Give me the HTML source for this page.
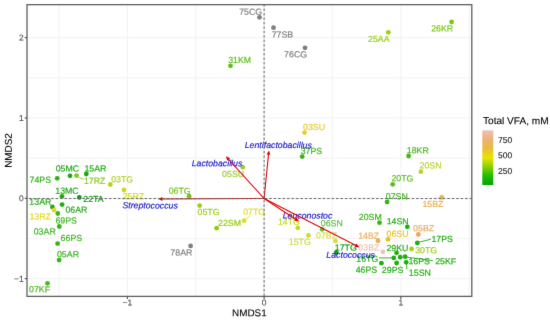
<!DOCTYPE html>
<html><head><meta charset="utf-8"><title>NMDS</title>
<style>html,body{margin:0;padding:0;background:#fff;}svg{display:block;text-rendering:geometricPrecision;}</style>
</head><body>
<svg width="550" height="321" viewBox="0 0 550 321">
<rect x="0" y="0" width="550" height="321" fill="#ffffff"/>
<defs><clipPath id="pc"><rect x="27.0" y="4.65" width="444.80" height="291.75"/></clipPath><filter id="bl" x="0" y="0" width="550" height="321" filterUnits="userSpaceOnUse" color-interpolation-filters="sRGB"><feConvolveMatrix order="3" kernelMatrix="0.0072 0.0847 0.0072 0.0847 1 0.0847 0.0072 0.0847 0.0072" edgeMode="duplicate" preserveAlpha="true"/></filter></defs>
<g filter="url(#bl)"><rect x="0" y="0" width="550" height="321" fill="#ffffff"/>
<g stroke="#f4f4f4" stroke-width="1.2" fill="none">
<line x1="59.05" y1="4.65" x2="59.05" y2="296.4"/>
<line x1="127.40" y1="4.65" x2="127.40" y2="296.4"/>
<line x1="195.75" y1="4.65" x2="195.75" y2="296.4"/>
<line x1="332.45" y1="4.65" x2="332.45" y2="296.4"/>
<line x1="400.80" y1="4.65" x2="400.80" y2="296.4"/>
<line x1="469.15" y1="4.65" x2="469.15" y2="296.4"/>
<line x1="27.0" y1="278.65" x2="471.8" y2="278.65"/>
<line x1="27.0" y1="238.48" x2="471.8" y2="238.48"/>
<line x1="27.0" y1="158.12" x2="471.8" y2="158.12"/>
<line x1="27.0" y1="117.95" x2="471.8" y2="117.95"/>
<line x1="27.0" y1="77.78" x2="471.8" y2="77.78"/>
<line x1="27.0" y1="37.60" x2="471.8" y2="37.60"/>
<line x1="264.10" y1="4.65" x2="264.10" y2="296.4"/>
<line x1="27.0" y1="198.30" x2="471.8" y2="198.30"/>
</g>
<g stroke="none">
<circle cx="259.5" cy="17.3" r="2.4" fill="#7f7f7f"/>
<circle cx="273.5" cy="27.7" r="2.4" fill="#7f7f7f"/>
<circle cx="305.0" cy="47.8" r="2.4" fill="#7f7f7f"/>
<circle cx="230.5" cy="65.8" r="2.4" fill="#5cc01a"/>
<circle cx="388.3" cy="32.3" r="2.4" fill="#9ccf10"/>
<circle cx="451.6" cy="22.0" r="2.4" fill="#78c814"/>
<circle cx="57.2" cy="178.3" r="2.4" fill="#2ab414"/>
<circle cx="70.0" cy="175.8" r="2.4" fill="#1ea812"/>
<circle cx="76.5" cy="175.6" r="2.4" fill="#80c820"/>
<circle cx="86.3" cy="174.0" r="2.4" fill="#1ea812"/>
<circle cx="110.3" cy="184.5" r="2.4" fill="#b4d228"/>
<circle cx="62.0" cy="196.3" r="2.4" fill="#22ac12"/>
<circle cx="79.3" cy="197.4" r="2.4" fill="#0e9c0e"/>
<circle cx="52.4" cy="207.0" r="2.4" fill="#22ac12"/>
<circle cx="62.1" cy="204.6" r="2.4" fill="#22ac12"/>
<circle cx="54.0" cy="210.1" r="2.4" fill="#e2d820"/>
<circle cx="57.8" cy="213.5" r="2.4" fill="#40b620"/>
<circle cx="59.3" cy="226.5" r="2.4" fill="#36b418"/>
<circle cx="57.6" cy="243.6" r="2.4" fill="#36b418"/>
<circle cx="59.1" cy="260.1" r="2.4" fill="#36b418"/>
<circle cx="47.5" cy="283.3" r="2.4" fill="#48b81a"/>
<circle cx="124.0" cy="190.0" r="2.4" fill="#ccd818"/>
<circle cx="189.1" cy="196.2" r="2.4" fill="#74c21c"/>
<circle cx="199.7" cy="205.6" r="2.4" fill="#9ccd18"/>
<circle cx="242.7" cy="167.2" r="2.4" fill="#9ccc30"/>
<circle cx="302.2" cy="156.6" r="2.4" fill="#36b418"/>
<circle cx="304.5" cy="132.6" r="2.4" fill="#e6cc30"/>
<circle cx="216.6" cy="228.2" r="2.4" fill="#90cc10"/>
<circle cx="244.1" cy="220.7" r="2.4" fill="#e0dc30"/>
<circle cx="190.6" cy="245.9" r="2.4" fill="#7f7f7f"/>
<circle cx="297.8" cy="227.8" r="2.4" fill="#c8d820"/>
<circle cx="322.2" cy="229.3" r="2.4" fill="#5dbe3f"/>
<circle cx="308.5" cy="235.4" r="2.4" fill="#ccda3a"/>
<circle cx="335.5" cy="241.1" r="2.4" fill="#d8dc40"/>
<circle cx="336.3" cy="252.5" r="2.4" fill="#0e9c0e"/>
<circle cx="378.0" cy="240.9" r="2.4" fill="#e8b060"/>
<circle cx="382.9" cy="251.8" r="2.4" fill="#f0c0b0"/>
<circle cx="379.5" cy="222.7" r="2.4" fill="#36b418"/>
<circle cx="407.3" cy="226.8" r="2.4" fill="#22ac12"/>
<circle cx="388.0" cy="239.4" r="2.4" fill="#e8c020"/>
<circle cx="418.3" cy="234.5" r="2.4" fill="#e8a860"/>
<circle cx="417.3" cy="243.0" r="2.4" fill="#22ac12"/>
<circle cx="411.6" cy="249.0" r="2.4" fill="#a0d020"/>
<circle cx="396.6" cy="252.8" r="2.4" fill="#22ac12"/>
<circle cx="393.8" cy="257.9" r="2.4" fill="#22ac12"/>
<circle cx="400.2" cy="257.2" r="2.4" fill="#22ac12"/>
<circle cx="405.1" cy="256.7" r="2.4" fill="#22ac12"/>
<circle cx="406.2" cy="262.3" r="2.4" fill="#22ac12"/>
<circle cx="396.6" cy="263.0" r="2.4" fill="#22ac12"/>
<circle cx="381.4" cy="263.2" r="2.4" fill="#22ac12"/>
<circle cx="408.6" cy="156.0" r="2.4" fill="#48b81a"/>
<circle cx="420.9" cy="171.7" r="2.4" fill="#b8d430"/>
<circle cx="392.7" cy="184.3" r="2.4" fill="#5cbc20"/>
<circle cx="387.1" cy="202.0" r="2.4" fill="#36b418"/>
<circle cx="441.7" cy="197.4" r="2.4" fill="#e8b050"/>
</g>
<line x1="78.5" y1="177.2" x2="83.5" y2="179.5" stroke="#80c820" stroke-width="0.9"/>
<line x1="246" y1="219" x2="249.5" y2="216.4" stroke="#e0dc30" stroke-width="0.9"/>
<line x1="419" y1="242.2" x2="431" y2="239.2" stroke="#22ac12" stroke-width="0.9"/>
<line x1="379" y1="257.9" x2="392" y2="257.9" stroke="#22ac12" stroke-width="0.9"/>
<line x1="407" y1="257.2" x2="433" y2="260.7" stroke="#22ac12" stroke-width="0.9"/>
<line x1="406.5" y1="264" x2="406.9" y2="269.4" stroke="#22ac12" stroke-width="0.9"/>
<g font-family="Liberation Sans, Arial, sans-serif" font-size="8.8" stroke-width="0.18">
<text transform="translate(239.16 14.65) rotate(0.1)" fill="#7f7f7f" stroke="#7f7f7f">75CG</text>
<text transform="translate(271.69 37.55) rotate(0.1)" fill="#7f7f7f" stroke="#7f7f7f">77SB</text>
<text transform="translate(284.11 57.35) rotate(0.1)" fill="#7f7f7f" stroke="#7f7f7f">76CG</text>
<text transform="translate(228.20 62.95) rotate(0.1)" fill="#5cc01a" stroke="#5cc01a">31KM</text>
<text transform="translate(368.07 41.95) rotate(0.1)" fill="#9ccf10" stroke="#9ccf10">25AA</text>
<text transform="translate(431.18 31.55) rotate(0.1)" fill="#78c814" stroke="#78c814">26KR</text>
<text transform="translate(29.56 182.65) rotate(0.1)" fill="#2ab414" stroke="#2ab414">74PS</text>
<text transform="translate(55.66 171.45) rotate(0.1)" fill="#1ea812" stroke="#1ea812">05MC</text>
<text transform="translate(83.89 183.65) rotate(0.1)" fill="#80c820" stroke="#80c820">17RZ</text>
<text transform="translate(84.41 171.45) rotate(0.1)" fill="#1ea812" stroke="#1ea812">15AR</text>
<text transform="translate(111.15 182.35) rotate(0.1)" fill="#b4d228" stroke="#b4d228">03TG</text>
<text transform="translate(55.25 193.75) rotate(0.1)" fill="#22ac12" stroke="#22ac12">13MC</text>
<text transform="translate(83.27 202.05) rotate(0.1)" fill="#0e9c0e" stroke="#0e9c0e">22TA</text>
<text transform="translate(29.36 204.65) rotate(0.1)" fill="#22ac12" stroke="#22ac12">13AR</text>
<text transform="translate(65.38 212.75) rotate(0.1)" fill="#22ac12" stroke="#22ac12">06AR</text>
<text transform="translate(29.44 219.55) rotate(0.1)" fill="#e2d820" stroke="#e2d820">13RZ</text>
<text transform="translate(55.41 223.55) rotate(0.1)" fill="#40b620" stroke="#40b620">69PS</text>
<text transform="translate(33.73 234.45) rotate(0.1)" fill="#36b418" stroke="#36b418">03AR</text>
<text transform="translate(60.61 241.05) rotate(0.1)" fill="#36b418" stroke="#36b418">66PS</text>
<text transform="translate(56.98 257.15) rotate(0.1)" fill="#36b418" stroke="#36b418">05AR</text>
<text transform="translate(28.99 292.35) rotate(0.1)" fill="#48b81a" stroke="#48b81a">07KF</text>
<text transform="translate(122.71 199.15) rotate(0.1)" fill="#ccd818" stroke="#ccd818">25RZ</text>
<text transform="translate(168.70 193.85) rotate(0.1)" fill="#74c21c" stroke="#74c21c">06TG</text>
<text transform="translate(197.55 214.95) rotate(0.1)" fill="#9ccd18" stroke="#9ccd18">05TG</text>
<text transform="translate(222.11 176.95) rotate(0.1)" fill="#9ccc30" stroke="#9ccc30">05SU</text>
<text transform="translate(300.67 153.95) rotate(0.1)" fill="#36b418" stroke="#36b418">37PS</text>
<text transform="translate(303.01 129.95) rotate(0.1)" fill="#e6cc30" stroke="#e6cc30">03SU</text>
<text transform="translate(218.00 226.05) rotate(0.1)" fill="#90cc10" stroke="#90cc10">22SM</text>
<text transform="translate(243.20 214.75) rotate(0.1)" fill="#e0dc30" stroke="#e0dc30">07TG</text>
<text transform="translate(170.37 255.55) rotate(0.1)" fill="#7f7f7f" stroke="#7f7f7f">78AR</text>
<text transform="translate(277.94 224.75) rotate(0.1)" fill="#c8d820" stroke="#c8d820">14TG</text>
<text transform="translate(320.78 226.15) rotate(0.1)" fill="#5dbe3f" stroke="#5dbe3f">06SN</text>
<text transform="translate(288.84 244.65) rotate(0.1)" fill="#ccda3a" stroke="#ccda3a">15TG</text>
<text transform="translate(316.05 238.55) rotate(0.1)" fill="#d8dc40" stroke="#d8dc40">07BZ</text>
<text transform="translate(334.84 250.45) rotate(0.1)" fill="#0e9c0e" stroke="#0e9c0e">17TG</text>
<text transform="translate(358.19 238.75) rotate(0.1)" fill="#e8b060" stroke="#e8b060">14BZ</text>
<text transform="translate(358.35 250.55) rotate(0.1)" fill="#f0c0b0" stroke="#f0c0b0">03BZ</text>
<text transform="translate(358.75 219.95) rotate(0.1)" fill="#36b418" stroke="#36b418">20SM</text>
<text transform="translate(386.72 224.35) rotate(0.1)" fill="#22ac12" stroke="#22ac12">14SN</text>
<text transform="translate(386.51 236.75) rotate(0.1)" fill="#e8c020" stroke="#e8c020">06SU</text>
<text transform="translate(413.10 231.15) rotate(0.1)" fill="#e8a860" stroke="#e8a860">05BZ</text>
<text transform="translate(431.45 241.95) rotate(0.1)" fill="#22ac12" stroke="#22ac12">17PS</text>
<text transform="translate(415.21 253.15) rotate(0.1)" fill="#a0d020" stroke="#a0d020">30TG</text>
<text transform="translate(386.41 251.05) rotate(0.1)" fill="#22ac12" stroke="#22ac12">29KU</text>
<text transform="translate(356.34 261.65) rotate(0.1)" fill="#22ac12" stroke="#22ac12">16TG</text>
<text transform="translate(408.40 264.15) rotate(0.1)" fill="#22ac12" stroke="#22ac12">16PS</text>
<text transform="translate(435.14 264.35) rotate(0.1)" fill="#22ac12" stroke="#22ac12">25KF</text>
<text transform="translate(408.87 275.75) rotate(0.1)" fill="#22ac12" stroke="#22ac12">15SN</text>
<text transform="translate(381.87 272.95) rotate(0.1)" fill="#22ac12" stroke="#22ac12">29PS</text>
<text transform="translate(355.64 272.65) rotate(0.1)" fill="#22ac12" stroke="#22ac12">46PS</text>
<text transform="translate(406.76 153.35) rotate(0.1)" fill="#48b81a" stroke="#48b81a">18KR</text>
<text transform="translate(419.53 168.55) rotate(0.1)" fill="#b8d430" stroke="#b8d430">20SN</text>
<text transform="translate(391.45 181.35) rotate(0.1)" fill="#5cbc20" stroke="#5cbc20">20TG</text>
<text transform="translate(385.83 199.35) rotate(0.1)" fill="#36b418" stroke="#36b418">07SN</text>
<text transform="translate(422.39 207.05) rotate(0.1)" fill="#e8b050" stroke="#e8b050">15BZ</text>
</g>
<g font-family="Liberation Sans, Arial, sans-serif" font-size="8.75" font-style="italic" fill="#1c1cd0" stroke="#1c1cd0" stroke-width="0.18">
<text transform="translate(122.39 208.33) rotate(0.1)" >Streptococcus</text>
<text transform="translate(191.71 166.23) rotate(0.1)" >Lactobacillus</text>
<text transform="translate(244.74 148.03) rotate(0.1)" >Lentifactobacillus</text>
<text transform="translate(282.70 218.53) rotate(0.1)" >Leuconostoc</text>
<text transform="translate(326.34 257.83) rotate(0.1)" >Lactococcus</text>
</g>
<g stroke="#e00000" fill="#e00000" stroke-width="1.05">
<line x1="264.10" y1="198.55" x2="161.90" y2="198.98"/>
<polygon stroke="none" points="158.20,199.00 162.39,197.08 162.41,200.88"/>
<line x1="264.10" y1="198.55" x2="228.38" y2="159.04"/>
<polygon stroke="none" points="225.90,156.30 230.13,158.14 227.31,160.69"/>
<line x1="264.10" y1="198.55" x2="268.53" y2="154.08"/>
<polygon stroke="none" points="268.90,150.40 270.37,154.77 266.59,154.39"/>
<line x1="264.10" y1="198.55" x2="295.91" y2="219.47"/>
<polygon stroke="none" points="299.00,221.50 294.45,220.78 296.53,217.60"/>
<line x1="264.10" y1="198.55" x2="356.01" y2="245.52"/>
<polygon stroke="none" points="359.30,247.20 354.70,246.98 356.42,243.60"/>
</g>
<g stroke="#666666" stroke-width="1.0" stroke-dasharray="2.6 1.8515" fill="none" clip-path="url(#pc)">
<line x1="264.10" y1="4.012" x2="264.10" y2="296.4"/>
<line x1="24.357" y1="198.55" x2="471.8" y2="198.55"/>
</g>
<rect x="27.0" y="4.65" width="444.80" height="291.75" fill="none" stroke="#606060" stroke-width="1.3"/>
<g stroke="#4d4d4d" stroke-width="1.1">
<line x1="127.40" y1="296.4" x2="127.40" y2="298.9"/>
<line x1="264.10" y1="296.4" x2="264.10" y2="298.9"/>
<line x1="400.80" y1="296.4" x2="400.80" y2="298.9"/>
<line x1="24.7" y1="278.65" x2="27.0" y2="278.65"/>
<line x1="24.7" y1="198.30" x2="27.0" y2="198.30"/>
<line x1="24.7" y1="117.95" x2="27.0" y2="117.95"/>
<line x1="24.7" y1="37.60" x2="27.0" y2="37.60"/>
</g>
<g font-family="Liberation Sans, Arial, sans-serif" font-size="8.5" fill="#4d4d4d" stroke="#4d4d4d" stroke-width="0.1">
<text transform="translate(127.40 305.60) rotate(0.1)" text-anchor="middle">−1</text>
<text transform="translate(264.10 305.60) rotate(0.1)" text-anchor="middle">0</text>
<text transform="translate(400.80 305.60) rotate(0.1)" text-anchor="middle">1</text>
<text transform="translate(23.70 281.65) rotate(0.1)" text-anchor="end">−1</text>
<text transform="translate(23.70 201.30) rotate(0.1)" text-anchor="end">0</text>
<text transform="translate(23.70 120.95) rotate(0.1)" text-anchor="end">1</text>
<text transform="translate(23.70 40.60) rotate(0.1)" text-anchor="end">2</text>
</g>
<text transform="translate(249.40 316.30) rotate(0.1)" text-anchor="middle" font-family="Liberation Sans, Arial, sans-serif" font-size="9.9" fill="#000" stroke="#000" stroke-width="0.1">NMDS1</text>
<text transform="translate(11.70 150.52) rotate(-89.9)" text-anchor="middle" font-family="Liberation Sans, Arial, sans-serif" font-size="9.9" fill="#000" stroke="#000" stroke-width="0.1">NMDS2</text>
<defs><linearGradient id="cb" x1="0" y1="1" x2="0" y2="0"><stop offset="0" stop-color="#00A600"/><stop offset="0.1667" stop-color="#1FBB00"/><stop offset="0.3333" stop-color="#8BD000"/><stop offset="0.5" stop-color="#E6E600"/><stop offset="0.6667" stop-color="#E9BD3A"/><stop offset="0.8333" stop-color="#ECB176"/><stop offset="1" stop-color="#EFC2B3"/></linearGradient></defs>
<rect x="482.3" y="130.3" width="11" height="54.7" fill="url(#cb)"/>
<text transform="translate(483.00 124.10) rotate(0.1)" font-family="Liberation Sans, Arial, sans-serif" font-size="10.1" fill="#000" stroke="#000" stroke-width="0.1">Total VFA, mM</text>
<g font-family="Liberation Sans, Arial, sans-serif" font-size="8.5" fill="#1a1a1a" stroke="#1a1a1a" stroke-width="0.1">
<text transform="translate(498.00 142.90) rotate(0.1)" >750</text>
<text transform="translate(498.00 158.20) rotate(0.1)" >500</text>
<text transform="translate(498.00 173.90) rotate(0.1)" >250</text>
</g>
</g></svg>
</body></html>
